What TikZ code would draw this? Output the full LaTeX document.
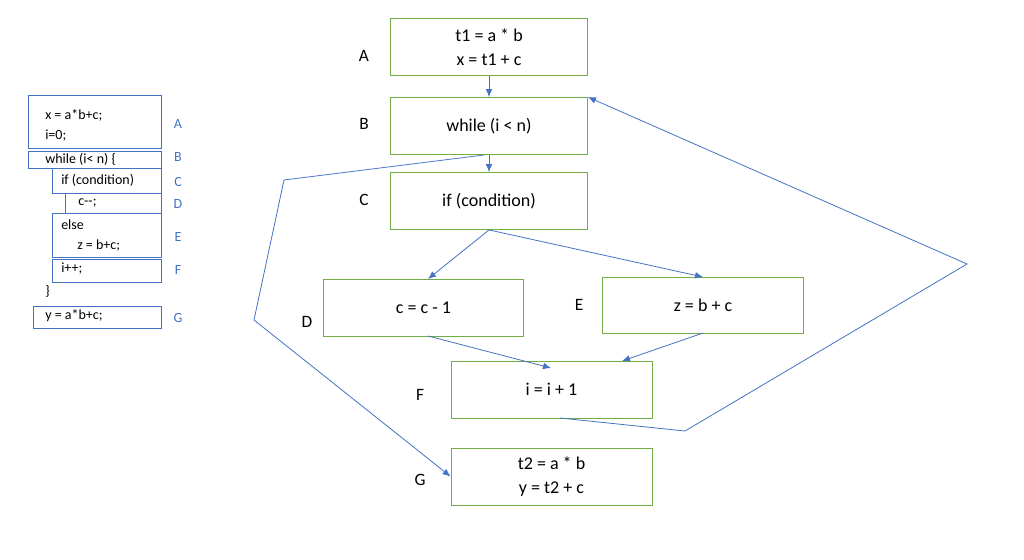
\documentclass[tikz,border=0pt]{standalone}
\usepackage{fontspec}
\setmainfont{Carlito}
\usetikzlibrary{arrows.meta}
\definecolor{gb}{HTML}{70AD47}
\definecolor{bl}{HTML}{4472C4}
\begin{document}
\begin{tikzpicture}[x=0.75pt,y=-0.75pt,
  cbox/.style={draw=gb,fill=white,font=\fontsize{13.5}{18}\selectfont,align=center,inner sep=0pt},
  lbl/.style={font=\fontsize{13}{15}\selectfont},
  stxt/.style={font=\fontsize{10.5}{13}\selectfont,anchor=west,inner sep=0pt},
  slbl/.style={font=\fontsize{10.5}{12}\selectfont,text=bl},
  ar/.style={draw=bl,line width=0.6pt,-{Latex[length=6pt,width=5pt]}}]
\useasboundingbox (0,0) rectangle (1024,560);
% left code
\draw[bl,line width=0.6pt] (28,95) rectangle (161,148);
\draw[bl,line width=0.6pt] (28,151) rectangle (161,168);
\draw[bl,line width=0.6pt] (52,168) rectangle (161,193);
\draw[bl,line width=0.6pt] (65,193) -- (65,213) -- (161,213) -- (161,193);
\draw[bl,line width=0.6pt] (52,213) rectangle (161,257);
\draw[bl,line width=0.6pt] (52,259) rectangle (161,282);
\draw[bl,line width=0.6pt] (33,306) rectangle (161,328);
\node[stxt] (la1) at (45,115) {x = a*b+c;};
\node[stxt] (la2) at (45,136) {i=0;};
\node[stxt] (lb) at (45,159) {while (i< n) \{};
\node[stxt] (lc) at (61,180) {if (condition)};
\node[stxt] (ld) at (78,203) {c{-}{-};};
\node[stxt] (le1) at (61,225) {else};
\node[stxt] (le2) at (77,246) {z = b+c;};
\node[stxt] (lf) at (61,269) {i++;};
\node[stxt] (lg) at (45,291) {\}};
\node[stxt] (lh) at (45,316) {y = a*b+c;};
\node[slbl] (sA) at (178,124) {A};
\node[slbl] (sB) at (178,157) {B};
\node[slbl] (sC) at (178,182) {C};
\node[slbl] (sD) at (178,204) {D};
\node[slbl] (sE) at (178,237) {E};
\node[slbl] (sF) at (178,270) {F};
\node[slbl] (sG) at (178,318) {G};
% CFG
\node[cbox,minimum width=148pt,minimum height=43pt] (A) at (489,47) {t1 = a * b\\x = t1 + c};
\node[cbox,minimum width=148pt,minimum height=43pt] (B) at (489,126) {while (i < n)};
\node[cbox,minimum width=148pt,minimum height=43pt] (C) at (489,201) {if (condition)};
\node[cbox,minimum width=150pt,minimum height=43pt] (D) at (423.5,307.5) {c = c - 1};
\node[cbox,minimum width=151pt,minimum height=42pt] (E) at (703,305) {z = b + c};
\node[cbox,minimum width=151pt,minimum height=43pt] (F) at (551.5,389.5) {i = i + 1};
\node[cbox,minimum width=151pt,minimum height=43pt] (G) at (551.5,476.5) {t2 = a * b\\y = t2 + c};
\node[lbl] at (364,56) {A};
\node[lbl] at (364,124) {B};
\node[lbl] at (364,200) {C};
\node[lbl] at (307,322) {D};
\node[lbl] at (579,305) {E};
\node[lbl] at (420,395) {F};
\node[lbl] at (420,480) {G};
\coordinate (p1) at (284,180);
\coordinate (p2) at (254,320);
\coordinate (q1) at (685,431);
\coordinate (q2) at (967,264);
\draw[ar] (A.south) -- (B.north);
\draw[ar] (B.south) -- (C.north);
\draw[ar] (C.south) -- (428,279);
\draw[ar] (C.south) -- (703,277);
\draw[ar] (428,336) -- (551,368);
\draw[ar] (703,333) -- (622,361);
\draw[ar] (560,418) -- (q1) -- (q2) -- (B.north east);
\draw[ar] (484,155) -- (p1) -- (p2) -- (G.west);
\end{tikzpicture}
\end{document}
